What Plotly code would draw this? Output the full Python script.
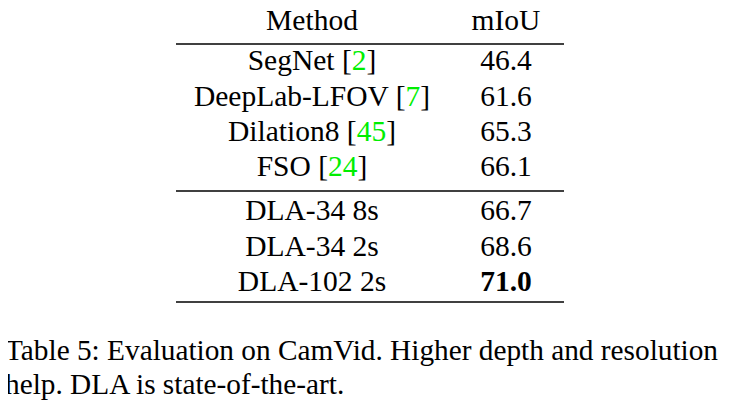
import plotly.graph_objects as go

G = "<span style='color:#00ee00'>{}</span>"

header = ["Method", "mIoU"]
methods = ["SegNet [" + G.format(2) + "]", "DeepLab-LFOV [" + G.format(7) + "]",
           "Dilation8 [" + G.format(45) + "]", "FSO [" + G.format(24) + "]",
           "DLA-34 8s", "DLA-34 2s", "DLA-102 2s"]
miou = ["46.4", "61.6", "65.3", "66.1", "66.7", "68.6", "<b>71.0</b>"]
caption = ["Table 5: Evaluation on CamVid. Higher depth and resolution",
           "help. DLA is state-of-the-art."]

font = dict(family="Liberation Serif, Times New Roman, serif", size=29.5, color="black")
cap_font = dict(font, size=29.3)

# row positions (pixel-like units)
row_h = 35.3
y_rows = [62 + i * row_h for i in range(4)] + [212 + i * row_h for i in range(3)]
x_method, x_miou = 311, 505
left, right = 175, 563

fig = go.Figure()
fig.add_trace(go.Scatter(x=[x_method, x_miou], y=[22, 22], mode="text",
                         text=header, textfont=font, hoverinfo="skip"))
fig.add_trace(go.Scatter(x=[x_method] * len(methods), y=y_rows, mode="text",
                         text=methods, textfont=font, hoverinfo="skip"))
fig.add_trace(go.Scatter(x=[x_miou] * len(miou), y=y_rows, mode="text",
                         text=miou, textfont=font, hoverinfo="skip"))
fig.add_trace(go.Scatter(x=[4, 4], y=[352, 386], mode="text", text=caption,
                         textposition="middle right", textfont=cap_font, hoverinfo="skip"))

for yl in [43, 190, 301]:
    fig.add_shape(type="line", x0=left, x1=right, y0=yl, y1=yl,
                  line=dict(color="black", width=1.3))

# page shows the plot offset by the body margin, so shift the ranges to compensate
fig.update_layout(
    width=738, height=406, margin=dict(l=0, r=0, t=0, b=0),
    plot_bgcolor="white", paper_bgcolor="white", showlegend=False,
    xaxis=dict(range=[7, 745], visible=False, fixedrange=True),
    yaxis=dict(range=[413, 7], visible=False, fixedrange=True),
)
fig.write_html("out.html")
